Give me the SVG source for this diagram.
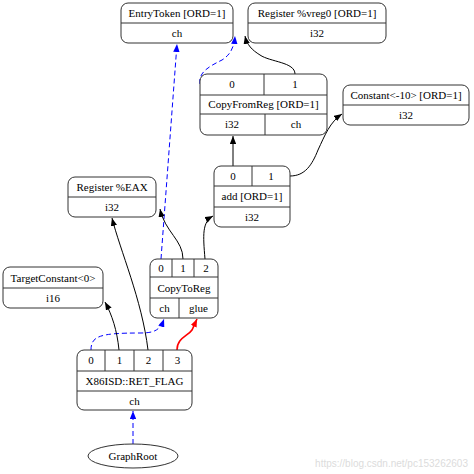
<svg xmlns="http://www.w3.org/2000/svg" width="474" height="474" viewBox="0 0 474 474">
<style>
.box{fill:#fff;stroke:#333;stroke-width:1}
.ln{stroke:#333;stroke-width:1;fill:none}
text{font-family:"Liberation Serif","Times New Roman",serif;font-size:11px;fill:#000;text-anchor:middle}
.e{fill:none;stroke:#000;stroke-width:1}
.b{fill:none;stroke:#0000ff;stroke-width:1;stroke-dasharray:5,3}
.r{fill:none;stroke:#ff0000;stroke-width:1.6}
.wm{font-family:"Liberation Sans",Arial,sans-serif;font-size:10px;fill:#dcdcdc;text-anchor:end}
</style>
<defs>
<marker id="ak" viewBox="0 0 10 8" refX="10" refY="4" markerWidth="8" markerHeight="6.4" markerUnits="userSpaceOnUse" orient="auto"><path d="M0,0 L10,4 L0,8 Z" fill="#000"/></marker>
<marker id="ab" viewBox="0 0 10 8" refX="10" refY="4" markerWidth="8" markerHeight="6.4" markerUnits="userSpaceOnUse" orient="auto"><path d="M0,0 L10,4 L0,8 Z" fill="#0000ff"/></marker>
<marker id="ar" viewBox="0 0 10 8" refX="10" refY="4" markerWidth="8" markerHeight="6.4" markerUnits="userSpaceOnUse" orient="auto"><path d="M0,0 L10,4 L0,8 Z" fill="#ff0000"/></marker>
</defs>

<g id="connectors">
<path class="b" d="M133,444 L133,411" marker-end="url(#ab)"/>
<path class="b" d="M91,350 C91,336 100,333 140,333 C155,333 160,330 164,319" marker-end="url(#ab)"/>
<path class="e" d="M119,350 C117,330 112,315 105,302" marker-end="url(#ak)"/>
<path class="e" d="M148,350 C142,300 120,250 112,218" marker-end="url(#ak)"/>
<path class="r" d="M177,350 C177,338 188,336 192,330 L197,319" marker-end="url(#ar)"/>
<path class="b" d="M161,259 L177,44" marker-end="url(#ab)"/>
<path class="e" d="M183,259 C183,240 165,232 160,209" marker-end="url(#ak)"/>
<path class="e" d="M205,259 C203,235 202,222 213,216" marker-end="url(#ak)"/>
<path class="e" d="M233,166 L233,136" marker-end="url(#ak)"/>
<path class="e" d="M290,176 C305,176 312,165 318,150 C325,135 330,122 342,114" marker-end="url(#ak)"/>
<path class="b" d="M200,84 C198,72 210,66 222,60 C230,55 234,48 235,36" marker-end="url(#ab)"/>
<path class="e" d="M295,74 C295,62 270,62 260,55 C252,50 247,45 245,36" marker-end="url(#ak)"/>
</g>

<g id="EntryToken">
<rect class="box" x="121" y="3" width="112" height="40" rx="7"/>
<line class="ln" x1="121" y1="23" x2="233" y2="23"/>
<text x="177" y="17">EntryToken [ORD=1]</text>
<text x="177" y="37">ch</text>
</g>

<g id="RegVreg0">
<rect class="box" x="248" y="3" width="138" height="40" rx="7"/>
<line class="ln" x1="248" y1="23" x2="386" y2="23"/>
<text x="317" y="17">Register %vreg0 [ORD=1]</text>
<text x="317" y="37">i32</text>
</g>

<g id="CopyFromReg">
<rect class="box" x="200" y="74" width="127" height="61" rx="7"/>
<line class="ln" x1="200" y1="95" x2="327" y2="95"/>
<line class="ln" x1="200" y1="114" x2="327" y2="114"/>
<line class="ln" x1="264" y1="74" x2="264" y2="95"/>
<line class="ln" x1="265" y1="114" x2="265" y2="135"/>
<text x="232" y="88">0</text>
<text x="295" y="88">1</text>
<text x="263.5" y="108">CopyFromReg [ORD=1]</text>
<text x="232" y="128">i32</text>
<text x="296" y="128">ch</text>
</g>

<g id="Constant">
<rect class="box" x="343" y="85" width="126" height="40" rx="7"/>
<line class="ln" x1="343" y1="105" x2="469" y2="105"/>
<text x="406" y="99">Constant&lt;-10&gt; [ORD=1]</text>
<text x="406" y="119">i32</text>
</g>

<g id="RegEAX">
<rect class="box" x="68" y="177" width="88" height="40" rx="7"/>
<line class="ln" x1="68" y1="197" x2="156" y2="197"/>
<text x="112" y="191">Register %EAX</text>
<text x="112" y="211">i32</text>
</g>

<g id="add">
<rect class="box" x="214" y="166" width="76" height="61" rx="7"/>
<line class="ln" x1="214" y1="186" x2="290" y2="186"/>
<line class="ln" x1="214" y1="207" x2="290" y2="207"/>
<line class="ln" x1="252" y1="166" x2="252" y2="186"/>
<text x="233" y="180">0</text>
<text x="271" y="180">1</text>
<text x="252" y="200">add [ORD=1]</text>
<text x="252" y="221">i32</text>
</g>

<g id="CopyToReg">
<rect class="box" x="150" y="259" width="68" height="59" rx="7"/>
<line class="ln" x1="150" y1="277" x2="218" y2="277"/>
<line class="ln" x1="150" y1="298" x2="218" y2="298"/>
<line class="ln" x1="172" y1="259" x2="172" y2="277"/>
<line class="ln" x1="194" y1="259" x2="194" y2="277"/>
<line class="ln" x1="179" y1="298" x2="179" y2="318"/>
<text x="161" y="272">0</text>
<text x="183" y="272">1</text>
<text x="206" y="272">2</text>
<text x="184" y="292">CopyToReg</text>
<text x="164.5" y="312">ch</text>
<text x="198.5" y="312">glue</text>
</g>

<g id="TargetConstant">
<rect class="box" x="3" y="267" width="100" height="41" rx="7"/>
<line class="ln" x1="3" y1="288" x2="103" y2="288"/>
<text x="53" y="282">TargetConstant&lt;0&gt;</text>
<text x="53" y="302">i16</text>
</g>

<g id="RET_FLAG">
<rect class="box" x="77" y="350" width="115" height="60" rx="7"/>
<line class="ln" x1="77" y1="371" x2="192" y2="371"/>
<line class="ln" x1="77" y1="391" x2="192" y2="391"/>
<line class="ln" x1="105" y1="350" x2="105" y2="371"/>
<line class="ln" x1="134" y1="350" x2="134" y2="371"/>
<line class="ln" x1="163" y1="350" x2="163" y2="371"/>
<text x="91" y="364">0</text>
<text x="119.5" y="364">1</text>
<text x="148.5" y="364">2</text>
<text x="177.5" y="364">3</text>
<text x="134.5" y="385">X86ISD::RET_FLAG</text>
<text x="134.5" y="405">ch</text>
</g>

<g id="GraphRoot">
<ellipse class="box" cx="133" cy="456" rx="45" ry="12"/>
<text x="133" y="460">GraphRoot</text>
</g>

<text class="wm" x="468" y="467">https://blog.csdn.net/pc153262603</text>
</svg>
